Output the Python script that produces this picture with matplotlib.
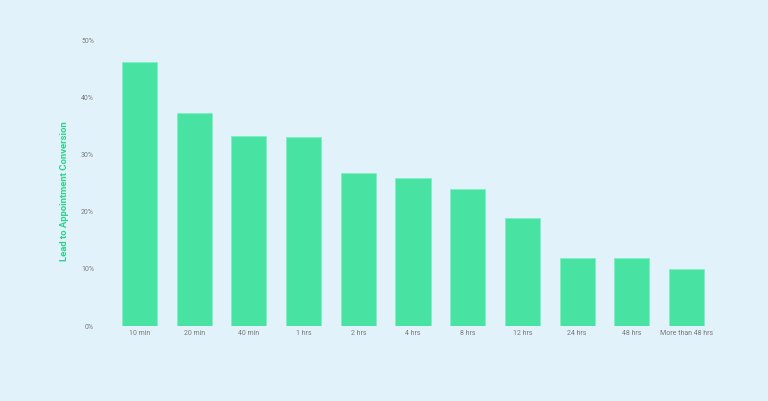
import matplotlib
matplotlib.use("Agg")
import matplotlib.pyplot as plt
from matplotlib.ticker import FuncFormatter, MultipleLocator

categories = ["10 min", "20 min", "40 min", "1 hrs", "2 hrs", "4 hrs", "8 hrs",
              "12 hrs", "24 hrs", "48 hrs", "More than 48 hrs"]
conversion = [46.2, 37.2, 33.3, 33.1, 26.7, 25.9, 23.9, 18.9, 11.9, 11.9, 9.9]

bg = "#e2f2fb"
bar_color = "#48e2a3"

plt.rcParams['font.family'] = ['Roboto', 'DejaVu Sans']

fig = plt.figure(figsize=(7.68, 4.01), dpi=100, facecolor=bg)
ax = fig.add_axes([0.1458, 0.187, 0.7839, 0.7132], facecolor=bg)

x = range(len(categories))
ax.bar(x, conversion, width=0.64, color=bar_color, edgecolor="#7ff0c2", linewidth=0.6)

ax.set_xlim(-0.5, len(categories) - 0.5)
ax.set_ylim(0, 50)
ax.yaxis.set_major_locator(MultipleLocator(10))
ax.yaxis.set_major_formatter(FuncFormatter(lambda v, p: f"{int(v)}%"))
ax.set_xticks(list(x))
ax.set_xticklabels(categories)

for s in ax.spines.values():
    s.set_visible(False)
ax.tick_params(axis='both', length=0, labelsize=5, labelcolor="#7a7a7a")
ax.tick_params(axis='y', pad=13)
ax.tick_params(axis='x', pad=3)

ax.set_ylabel("Lead to Appointment Conversion", fontsize=6.8, fontweight='bold',
              color="#2fd08e")
ax.yaxis.set_label_coords(-0.071, 0.47)

fig.savefig("out.png", dpi=100, facecolor=bg)
